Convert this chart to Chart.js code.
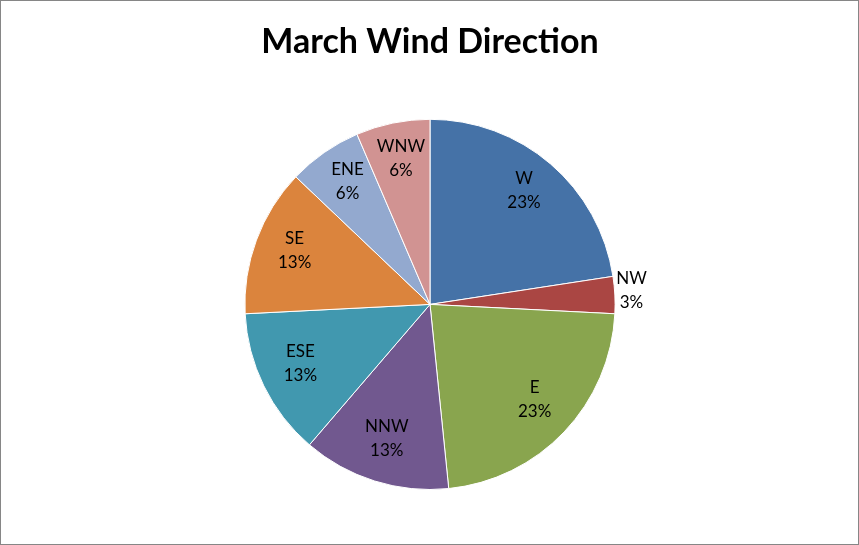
<!DOCTYPE html>
<html>
<head>
<meta charset="utf-8">
<script src="https://cdn.jsdelivr.net/npm/chart.js@4/dist/chart.umd.min.js"></script>
<style>
  html, body { margin: 0; padding: 0; background: #fff; }
  #frame { width: 857px; height: 543px; border: 1px solid #868686; position: relative; }
  canvas { display: block; }
</style>
</head>
<body>
<div id="frame"><canvas id="chart" width="857" height="543"></canvas></div>
<script>
// days in March by prevailing wind direction
const directions = ["W", "NW", "E", "NNW", "ESE", "SE", "ENE", "WNW"];
const days = [7, 1, 7, 4, 4, 4, 2, 2];
const sliceColors = ["#4572A7", "#AA4643", "#89A54E", "#71588F", "#4198AF", "#DB843D", "#93A9CF", "#D19392"];

const total = days.reduce((a, b) => a + b, 0);

// draws "name / pct" inside each slice, small slices go just outside
const sliceLabels = {
    id: "sliceLabels",
    afterDatasetsDraw(chart) {
        const ctx = chart.ctx;
        const meta = chart.getDatasetMeta(0);
        ctx.save();
        ctx.font = "17px Lato, 'Open Sans', sans-serif";
        ctx.fillStyle = "#000";
        ctx.textAlign = "center";
        ctx.textBaseline = "middle";
        meta.data.forEach((arc, i) => {
            const share = days[i] / total;
            const mid = (arc.startAngle + arc.endAngle) / 2;
            const r = share < 0.05 ? arc.outerRadius * 1.09 : arc.outerRadius * 0.78;
            const x = arc.x + Math.cos(mid) * r;
            const y = arc.y + Math.sin(mid) * r - 4;
            ctx.fillText(directions[i], x, y - 12);
            ctx.fillText(Math.round(share * 100) + "%", x, y + 12);
        });
        ctx.restore();
    },
};

new Chart(document.getElementById("chart"), {
    type: "pie",
    data: {
        labels: directions,
        datasets: [
            {
                data: days,
                backgroundColor: sliceColors,
                borderColor: "#ffffff",
                borderWidth: 1,
            },
        ],
    },
    options: {
        responsive: false,
        animation: false,
        layout: { padding: { left: 243, right: 242, top: 0, bottom: 54 } },
        plugins: {
            legend: { display: false },
            tooltip: { enabled: false },
            title: {
                display: true,
                text: "March Wind Direction",
                color: "#000",
                font: { family: "Lato, 'Open Sans', sans-serif", size: 34, weight: "bold", lineHeight: 1.2 },
                padding: { top: 21, bottom: 56 },
            },
        },
    },
    plugins: [sliceLabels],
});
</script>
</body>
</html>
